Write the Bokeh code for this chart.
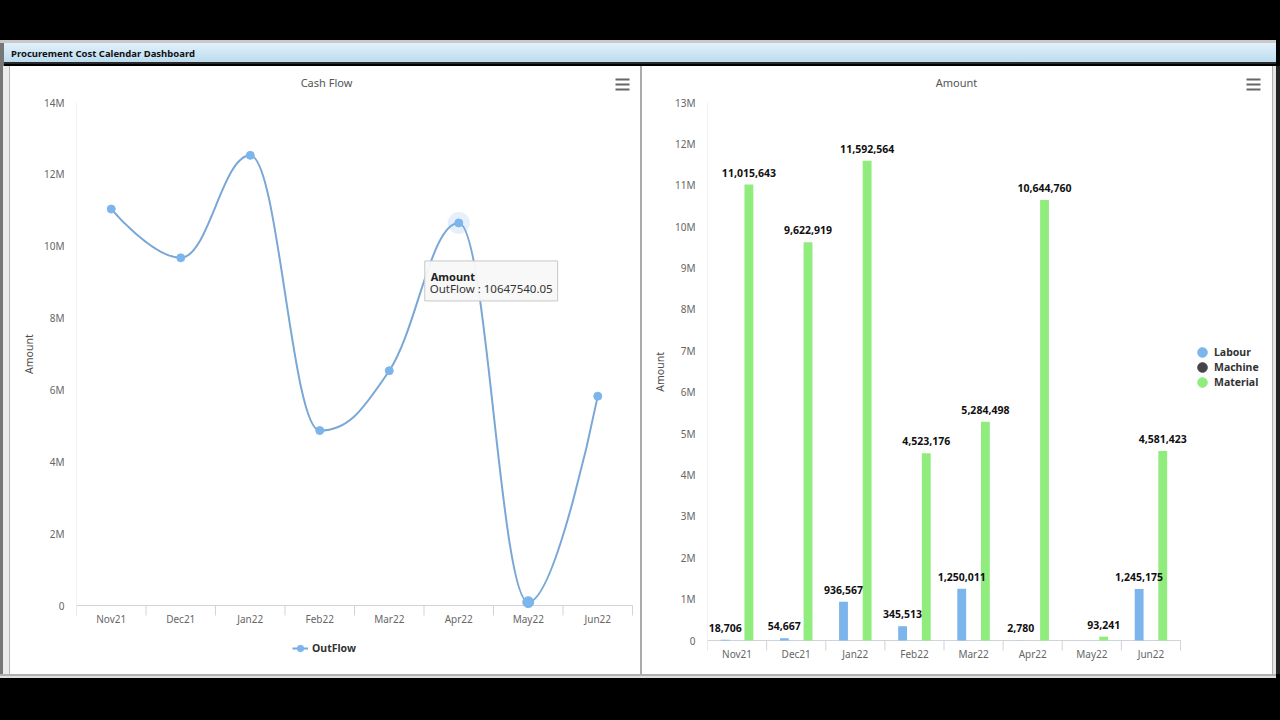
import math
from bokeh.plotting import figure
from bokeh.models import (ColumnDataSource, FixedTicker, CustomJSTickFormatter, Label,
                          Legend, LegendItem, Div, Range1d, BoxAnnotation)
from bokeh.layouts import row, column
from bokeh.embed import file_html
from bokeh.resources import INLINE
from bokeh.core.properties import value

nan = float("nan")

# ---------------- data ----------------
months = ["Nov21", "Dec21", "Jan22", "Feb22", "Mar22", "Apr22", "May22", "Jun22"]
outflow = [11034349, 9677586, 12529131, 4868689, 6534509, 10647540.05, 93241, 5826598]
labour = [18706, 54667, 936567, 345513, 1250011, 2780, nan, 1245175]
machine = [nan, nan, nan, nan, nan, nan, nan, nan]
material = [11015643, 9622919, 11592564, 4523176, 5284498, 10644760, 93241, 4581423]
left_y_ticks = [0, 2e6, 4e6, 6e6, 8e6, 10e6, 12e6, 14e6]
right_y_ticks = [0, 1e6, 2e6, 3e6, 4e6, 5e6, 6e6, 7e6, 8e6, 9e6, 10e6, 11e6, 12e6, 13e6]
tooltip_month = "Apr22"
cursor_month = "May22"

FONT = "Noto Sans"
BLUE = "#7cb5ec"
LINE_BLUE = "#7aa7d6"
DARK = "#434348"
GREEN = "#90ed7d"
AXIS = "#cfd3da"
NB = "\u00a0"

x_idx = list(range(len(months)))
minor = [i - 0.5 for i in range(len(months) + 1)]
y_fmt = CustomJSTickFormatter(code="return tick == 0 ? '0' : (tick/1000000).toFixed(0) + 'M';")

FIG_TOP, FIG_BOTTOM = 66, 674       # page pixels of the figure row
FRAME_BOTTOM = FIG_BOTTOM


class Geo:
    """Page-pixel geometry of one chart panel -> data-space helpers."""
    def __init__(self, fig_left, fig_width, plot_left, plot_right, zero_px, top_px, top_val):
        self.fig_left, self.fig_width = fig_left, fig_width
        self.plot_left, self.zero_px, self.top_px, self.top_val = plot_left, zero_px, top_px, top_val
        self.cat_px = (plot_right - plot_left) / len(months)
        self.border_left = plot_left - fig_left

    def dx(self, sx):
        return -0.5 + (sx - self.plot_left) / self.cat_px

    def dy(self, sy):
        return (self.zero_px - sy) * self.top_val / (self.zero_px - self.top_px)


def make_fig(g, y_ticks, ylabel):
    p = figure(width=g.fig_width, height=FIG_BOTTOM - FIG_TOP,
               x_range=Range1d(g.dx(g.plot_left), g.dx(g.fig_left + g.fig_width)),
               y_range=Range1d(g.dy(FRAME_BOTTOM), g.dy(FIG_TOP)),
               x_axis_location=None,
               output_backend="svg", toolbar_location=None,
               min_border_left=g.border_left, min_border_right=0,
               min_border_top=0, min_border_bottom=0,
               background_fill_color="white", border_fill_color="white",
               outline_line_color=None, styles={"background-color": "white"})
    p.grid.visible = False
    ay = p.yaxis[0]
    ay.ticker = FixedTicker(ticks=y_ticks)
    ay.major_tick_out = 0
    ay.major_tick_in = 0
    ay.minor_tick_line_color = None
    ay.axis_line_color = None
    ay.major_label_standoff = 12
    ay.major_label_text_font = FONT
    ay.major_label_text_font_size = "10px"
    ay.major_label_text_color = "#666666"
    ay.formatter = y_fmt
    ay.axis_label = ylabel
    ay.axis_label_text_font = FONT
    ay.axis_label_text_font_size = "10.5px"
    ay.axis_label_text_font_style = "normal"
    ay.axis_label_text_color = "#4d4d4d"
    ay.axis_label_standoff = 5
    # category axis: line, boundary ticks and month labels
    p.segment(x0=[minor[0]], y0=[0], x1=[minor[-1]], y1=[0], line_color=AXIS, line_width=1)
    p.ray(x=minor, y=[0] * len(minor), length=10, length_units="screen", angle=-math.pi / 2,
          line_color=AXIS, line_width=1)
    p.text(x=x_idx, y=[0] * len(months), text=months, y_offset=13, text_align="center",
           text_baseline="middle", text_font=value(FONT), text_font_size="10px", text_color="#666666")
    # value axis line
    p.segment(x0=[minor[0]], y0=[0], x1=[minor[0]], y1=[y_ticks[-1]], line_color="#e6e6e6", line_width=1)
    return p


def add_title_and_menu(p, g, text, title_sx, title_sy, menu_sx):
    p.add_layout(Label(x=g.dx(title_sx), y=g.dy(title_sy), text=text,
                       text_align="center", text_baseline="middle",
                       text_font=FONT, text_font_size="11px", text_color="#555555"))
    for cy in (79, 84, 89):
        p.add_layout(BoxAnnotation(left=g.dx(menu_sx), right=g.dx(menu_sx + 14),
                                   bottom=g.dy(cy + 1), top=g.dy(cy - 1),
                                   fill_color="#666666", fill_alpha=1, line_color=None))


# ---------------- left: cash flow spline ----------------
GL = Geo(fig_left=10, fig_width=630, plot_left=76, plot_right=632, zero_px=605, top_px=102,
         top_val=left_y_ticks[-1])
pl = make_fig(GL, left_y_ticks, NB * 12 + "Amount")

# Highcharts-style spline control points
sm = 1.5
den = sm + 1
n = len(outflow)
lcx = list(map(float, x_idx)); lcy = list(map(float, outflow))
rcx = list(map(float, x_idx)); rcy = list(map(float, outflow))
for i in range(1, n - 1):
    x, y = x_idx[i], outflow[i]
    px, py = x_idx[i - 1], outflow[i - 1]
    nx, ny = x_idx[i + 1], outflow[i + 1]
    a_x = (sm * x + px) / den; a_y = (sm * y + py) / den
    b_x = (sm * x + nx) / den; b_y = (sm * y + ny) / den
    corr = ((b_y - a_y) * (b_x - x)) / (b_x - a_x) + y - b_y
    a_y += corr; b_y += corr
    if a_y > py and a_y > y:
        a_y = max(py, y); b_y = 2 * y - a_y
    elif a_y < py and a_y < y:
        a_y = min(py, y); b_y = 2 * y - a_y
    if b_y > ny and b_y > y:
        b_y = max(ny, y); a_y = 2 * y - b_y
    elif b_y < ny and b_y < y:
        b_y = min(ny, y); a_y = 2 * y - b_y
    lcx[i], lcy[i], rcx[i], rcy[i] = a_x, a_y, b_x, b_y

seg = ColumnDataSource(dict(
    x0=x_idx[:-1], y0=outflow[:-1], x1=x_idx[1:], y1=outflow[1:],
    cx0=rcx[:-1], cy0=rcy[:-1], cx1=lcx[1:], cy1=lcy[1:]))
pl.bezier(x0="x0", y0="y0", x1="x1", y1="y1", cx0="cx0", cy0="cy0", cx1="cx1", cy1="cy1",
          source=seg, line_color=LINE_BLUE, line_width=2)

ti = months.index(tooltip_month)
ci = months.index(cursor_month)
pl.scatter([x_idx[ti]], [outflow[ti]], size=22, fill_color=BLUE, fill_alpha=0.2, line_color=None)
pts = pl.scatter(x_idx, outflow, size=8, fill_color=BLUE, line_color=BLUE)
pl.scatter([x_idx[ci]], [outflow[ci]], size=11, fill_color=BLUE, line_color=BLUE)
leg_line = pl.line([nan], [nan], line_color=LINE_BLUE, line_width=2)

add_title_and_menu(pl, GL, "Cash Flow", 326, 82, 615)

leg_l = Legend(items=[LegendItem(label="OutFlow", renderers=[leg_line, pts])],
               location=(292 - GL.plot_left, FRAME_BOTTOM - 658), orientation="horizontal",
               glyph_width=16, glyph_height=20, label_height=20, padding=0, spacing=0, margin=0,
               label_standoff=4, border_line_color=None, background_fill_alpha=0,
               label_text_font=FONT, label_text_font_size="10.5px",
               label_text_font_style="bold", label_text_color="#333333")
pl.add_layout(leg_l)

# tooltip (hover state) anchored at the hovered point
pl.add_layout(Label(x=x_idx[ti], y=outflow[ti], x_offset=-34, y_offset=-38,
                    text=" \nOutFlow : " + f"{outflow[ti]:.2f}", text_align="left", text_baseline="top",
                    text_font=FONT, text_font_size="11.5px", text_color="#333333",
                    text_line_height=1.0,
                    padding=5, background_fill_color="#f8f8f8", background_fill_alpha=0.95,
                    border_line_color="#c8c8c8", border_line_width=1))
pl.add_layout(Label(x=x_idx[ti], y=outflow[ti], x_offset=-28, y_offset=-46,
                    text="Amount", text_align="left", text_baseline="top",
                    text_font=FONT, text_font_size="11px", text_font_style="bold",
                    text_color="#222222"))

# ---------------- right: grouped columns ----------------
GR = Geo(fig_left=642, fig_width=630, plot_left=707, plot_right=1180, zero_px=640, top_px=102,
         top_val=right_y_ticks[-1])
pr = make_fig(GR, right_y_ticks, "Amount" + NB)

series = [("Labour", labour, BLUE, -0.2), ("Machine", machine, DARK, 0.0), ("Material", material, GREEN, 0.2)]
label_rows = []
for name, vals, col, off in series:
    xs = [i + off for i in x_idx]
    pr.vbar(x=xs, top=vals, width=0.15, fill_color=col, line_color=None)
    label_rows += [(x, v) for x, v in zip(xs, vals) if not math.isnan(v)]

lab_src = ColumnDataSource(dict(x=[r[0] for r in label_rows], y=[r[1] for r in label_rows],
                                t=[f"{int(r[1]):,}" for r in label_rows]))
pr.text(x="x", y="y", text="t", source=lab_src, y_offset=-8, text_align="center",
        text_baseline="bottom", text_font=value(FONT), text_font_size="10.5px",
        text_font_style="bold", text_color="#111111")

add_title_and_menu(pr, GR, "Amount", 956, 82, 1246)

for (name, vals, col, off), cy in zip(series, (352, 367, 382)):
    dot = pr.scatter([nan], [nan], size=11, fill_color=col, line_color=col)
    pr.add_layout(Legend(items=[LegendItem(label=name, renderers=[dot])],
                         location=(1190 - GR.plot_left, FRAME_BOTTOM - (cy + 12)),
                         glyph_width=24, glyph_height=24, label_height=15, padding=0, spacing=0,
                         margin=0, label_standoff=0, border_line_color=None,
                         background_fill_alpha=0, label_text_font=FONT,
                         label_text_font_size="10.5px", label_text_font_style="bold",
                         label_text_color="#333333"))

# ---------------- page frame ----------------
header = Div(width=1280, height=66, margin=0, text=(
    "<div style='position:relative;width:1280px;height:66px;background:#000;'>"
    "<div style='position:absolute;left:0;top:40px;width:1276px;height:3px;background:#c9c9c9;'></div>"
    "<div style='position:absolute;left:0;top:43px;width:4px;height:23px;background:#777;'></div>"
    "<div style='position:absolute;left:4px;top:43px;width:1272px;height:21px;"
    "background:linear-gradient(#e2f0f9,#bcdcf0);border-bottom:2px solid #2a2a2a;'>"
    "<span style=\"position:absolute;left:7px;top:4px;font-family:'Noto Sans';font-weight:bold;"
    "font-size:9.5px;color:#111;white-space:nowrap;\">Procurement Cost Calendar Dashboard</span></div>"
    "</div>"))
left_edge = Div(width=10, height=608, margin=0, text=(
    "<div style='width:10px;height:608px;background:linear-gradient(90deg,#777 0,#777 3px,#ececec 3px,"
    "#ececec 9px,#b5b5b5 9px,#b5b5b5 10px);'></div>"))
divider = Div(width=2, height=608, margin=0, text="<div style='width:2px;height:608px;background:#ababab;'></div>")
right_edge = Div(width=8, height=608, margin=0, text=(
    "<div style='width:8px;height:608px;background:linear-gradient(90deg,#b0b0b0 0,#b0b0b0 1px,#e4e4e4 1px,"
    "#e4e4e4 4px,#222 4px,#222 8px);'></div>"))
footer = Div(width=1280, height=46, margin=0, text=(
    "<div style='width:1280px;height:46px;background:#000;position:relative;'>"
    "<div style='position:absolute;left:0;top:0;width:1276px;height:2px;background:#b0b0b0;'></div>"
    "<div style='position:absolute;left:0;top:2px;width:1276px;height:2px;background:#e0e0e0;'></div></div>"))

layout = column(header,
                row(left_edge, pl, divider, pr, right_edge, spacing=0,
                    styles={"background-color": "white"}),
                footer, spacing=0, styles={"background-color": "#000"})

open("out.html", "w").write(file_html(layout, INLINE, title="Procurement Cost Calendar Dashboard"))
